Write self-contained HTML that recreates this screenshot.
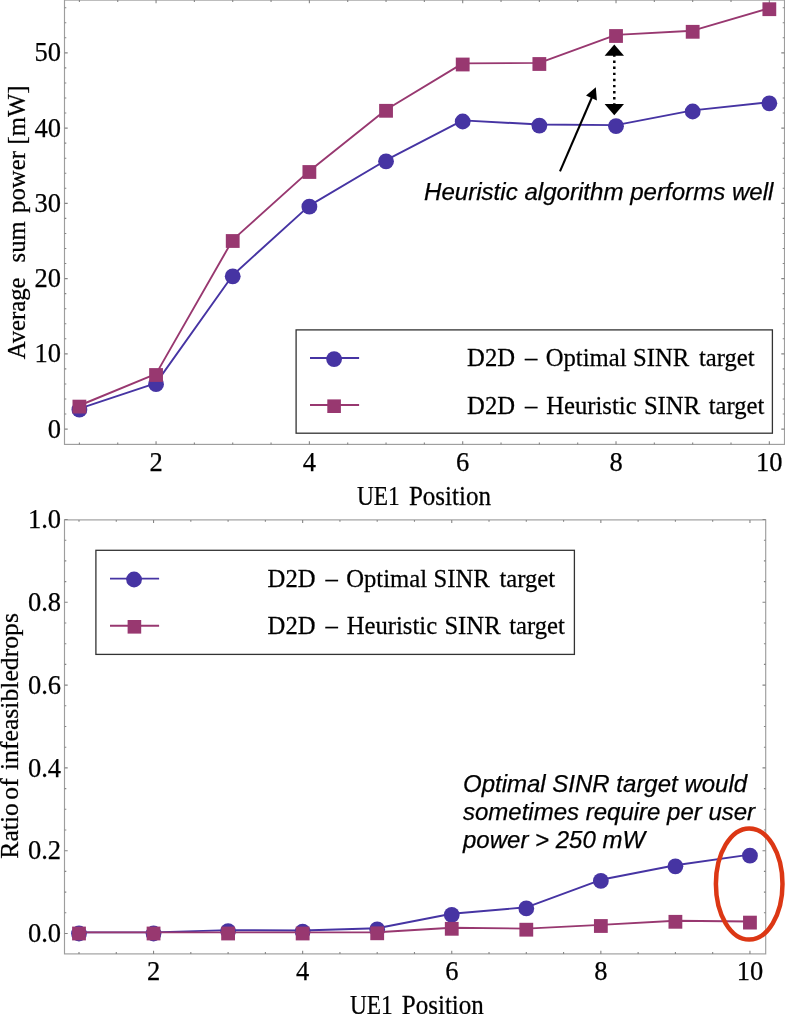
<!DOCTYPE html>
<html><head><meta charset="utf-8"><title>Average sum power and ratio of infeasible drops vs UE1 position</title>
<style>html,body{margin:0;padding:0;background:#fff;width:785px;height:1014px;overflow:hidden}svg{display:block}.s{font-family:'Liberation Serif', 'Times New Roman', serif;fill:#000;stroke:#000;stroke-width:0.25px} .i{font-family:'Liberation Sans', Arial, sans-serif;font-style:italic;fill:#000;stroke:#000;stroke-width:0.25px}</style></head><body>
<svg width="785" height="1014" viewBox="0 0 785 1014">
<rect width="785" height="1014" fill="#fff"/>
<rect x="64.5" y="0.1" width="720.00" height="444.30" fill="none" stroke="#9d9d9d" stroke-width="1.15"/>
<path d="M156.06,444.4v-3.2M156.06,0.1v3.2M309.38,444.4v-3.2M309.38,0.1v3.2M462.70,444.4v-3.2M462.70,0.1v3.2M616.02,444.4v-3.2M616.02,0.1v3.2M769.34,444.4v-3.2M769.34,0.1v3.2M79.40,444.4v-1.8M79.40,0.1v1.8M117.73,444.4v-1.8M117.73,0.1v1.8M194.39,444.4v-1.8M194.39,0.1v1.8M232.72,444.4v-1.8M232.72,0.1v1.8M271.05,444.4v-1.8M271.05,0.1v1.8M347.71,444.4v-1.8M347.71,0.1v1.8M386.04,444.4v-1.8M386.04,0.1v1.8M424.37,444.4v-1.8M424.37,0.1v1.8M501.03,444.4v-1.8M501.03,0.1v1.8M539.36,444.4v-1.8M539.36,0.1v1.8M577.69,444.4v-1.8M577.69,0.1v1.8M654.35,444.4v-1.8M654.35,0.1v1.8M692.68,444.4v-1.8M692.68,0.1v1.8M731.01,444.4v-1.8M731.01,0.1v1.8M64.5,429.10h3.2M784.5,429.10h-3.2M64.5,353.85h3.2M784.5,353.85h-3.2M64.5,278.60h3.2M784.5,278.60h-3.2M64.5,203.35h3.2M784.5,203.35h-3.2M64.5,128.10h3.2M784.5,128.10h-3.2M64.5,52.85h3.2M784.5,52.85h-3.2M64.5,414.05h1.8M784.5,414.05h-1.8M64.5,399.00h1.8M784.5,399.00h-1.8M64.5,383.95h1.8M784.5,383.95h-1.8M64.5,368.90h1.8M784.5,368.90h-1.8M64.5,338.80h1.8M784.5,338.80h-1.8M64.5,323.75h1.8M784.5,323.75h-1.8M64.5,308.70h1.8M784.5,308.70h-1.8M64.5,293.65h1.8M784.5,293.65h-1.8M64.5,263.55h1.8M784.5,263.55h-1.8M64.5,248.50h1.8M784.5,248.50h-1.8M64.5,233.45h1.8M784.5,233.45h-1.8M64.5,218.40h1.8M784.5,218.40h-1.8M64.5,188.30h1.8M784.5,188.30h-1.8M64.5,173.25h1.8M784.5,173.25h-1.8M64.5,158.20h1.8M784.5,158.20h-1.8M64.5,143.15h1.8M784.5,143.15h-1.8M64.5,113.05h1.8M784.5,113.05h-1.8M64.5,98.00h1.8M784.5,98.00h-1.8M64.5,82.95h1.8M784.5,82.95h-1.8M64.5,67.90h1.8M784.5,67.90h-1.8M64.5,37.80h1.8M784.5,37.80h-1.8M64.5,22.75h1.8M784.5,22.75h-1.8M64.5,7.70h1.8M784.5,7.70h-1.8" stroke="#858585" stroke-width="1.1" fill="none"/>
<text class="s" x="61" y="437.70" font-size="26.5" text-anchor="end">0</text>
<text class="s" x="61" y="362.45" font-size="26.5" text-anchor="end">10</text>
<text class="s" x="61" y="287.20" font-size="26.5" text-anchor="end">20</text>
<text class="s" x="61" y="211.95" font-size="26.5" text-anchor="end">30</text>
<text class="s" x="61" y="136.70" font-size="26.5" text-anchor="end">40</text>
<text class="s" x="61" y="61.45" font-size="26.5" text-anchor="end">50</text>
<text class="s" x="156.06" y="470.5" font-size="26.5" text-anchor="middle">2</text>
<text class="s" x="309.38" y="470.5" font-size="26.5" text-anchor="middle">4</text>
<text class="s" x="462.70" y="470.5" font-size="26.5" text-anchor="middle">6</text>
<text class="s" x="616.02" y="470.5" font-size="26.5" text-anchor="middle">8</text>
<text class="s" x="769.34" y="470.5" font-size="26.5" text-anchor="middle">10</text>
<text class="s" transform="translate(357.00,504.5) scale(0.885,1)" font-size="26.4">UE1</text><text class="s" transform="translate(408.90,504.5) scale(0.948,1)" font-size="26.4">Position</text>
<text class="s" transform="translate(24.6,359.3) rotate(-90) scale(0.955,1)" y="0" font-size="25.9"><tspan x="0.0">Average</tspan><tspan x="101.47">sum</tspan><tspan x="153.3">power</tspan><tspan x="224.92">[mW]</tspan></text>
<polyline points="79.40,408.60 156.06,383.10 232.72,275.20 309.38,205.60 386.04,160.20 462.70,120.40 539.36,124.50 616.02,125.10 692.68,110.40 769.34,102.20" fill="none" stroke="#4634a3" stroke-width="1.9" stroke-linejoin="round"/>
<circle cx="79.40" cy="409.70" r="7.9" fill="#4634a3"/>
<circle cx="156.06" cy="384.20" r="7.9" fill="#4634a3"/>
<circle cx="232.72" cy="276.30" r="7.9" fill="#4634a3"/>
<circle cx="309.38" cy="206.70" r="7.9" fill="#4634a3"/>
<circle cx="386.04" cy="161.30" r="7.9" fill="#4634a3"/>
<circle cx="462.70" cy="121.50" r="7.9" fill="#4634a3"/>
<circle cx="539.36" cy="125.60" r="7.9" fill="#4634a3"/>
<circle cx="616.02" cy="126.20" r="7.9" fill="#4634a3"/>
<circle cx="692.68" cy="111.50" r="7.9" fill="#4634a3"/>
<circle cx="769.34" cy="103.30" r="7.9" fill="#4634a3"/>
<polyline points="79.40,405.50 156.06,373.90 232.72,239.90 309.38,170.90 386.04,109.70 462.70,63.40 539.36,62.90 616.02,34.90 692.68,30.70 769.34,8.10" fill="none" stroke="#983870" stroke-width="1.9" stroke-linejoin="round"/>
<rect x="72.50" y="399.70" width="13.8" height="13.8" fill="#983870"/>
<rect x="149.16" y="368.10" width="13.8" height="13.8" fill="#983870"/>
<rect x="225.82" y="234.10" width="13.8" height="13.8" fill="#983870"/>
<rect x="302.48" y="165.10" width="13.8" height="13.8" fill="#983870"/>
<rect x="379.14" y="103.90" width="13.8" height="13.8" fill="#983870"/>
<rect x="455.80" y="57.60" width="13.8" height="13.8" fill="#983870"/>
<rect x="532.46" y="57.10" width="13.8" height="13.8" fill="#983870"/>
<rect x="609.12" y="29.10" width="13.8" height="13.8" fill="#983870"/>
<rect x="685.78" y="24.90" width="13.8" height="13.8" fill="#983870"/>
<rect x="762.44" y="2.30" width="13.8" height="13.8" fill="#983870"/>
<rect x="296.1" y="329.9" width="476.3" height="103.3" fill="#fff" stroke="#333" stroke-width="1.3"/>
<line x1="310" y1="358.0" x2="359.1" y2="358.0" stroke="#4634a3" stroke-width="1.9"/><circle cx="334.1" cy="359.1" r="7.9" fill="#4634a3"/>
<line x1="310" y1="405.0" x2="359.1" y2="405.0" stroke="#983870" stroke-width="1.9"/><rect x="327.3" y="399.4" width="13.6" height="13.6" fill="#983870"/>
<text class="s" transform="translate(467.10,366.2) scale(0.96,1)" font-size="25.7"><tspan x="0.00">D2D</tspan><tspan x="60.42">–</tspan><tspan x="81.88">Optimal</tspan><tspan x="172.92">SINR</tspan><tspan x="241.46">target</tspan></text>
<text class="s" transform="translate(467.10,413.8) scale(0.96,1)" font-size="25.7"><tspan x="0.00">D2D</tspan><tspan x="60.42">–</tspan><tspan x="82.40">Heuristic</tspan><tspan x="184.17">SINR</tspan><tspan x="251.67">target</tspan></text>
<line x1="560" y1="171.3" x2="592.3" y2="96.5" stroke="#000" stroke-width="2.1"/>
<polygon points="595.8,87.2 586.0,95.5 596.9,100.4" fill="#000"/>
<line x1="614.3" y1="50" x2="614.3" y2="108" stroke="#000" stroke-width="2.5" stroke-dasharray="2.4,3.7" stroke-dashoffset="1.7"/>
<polygon points="614.3,44.6 604.6,55.8 624,55.8" fill="#000"/>
<polygon points="614.3,115.3 604.6,103.9 624,103.9" fill="#000"/>
<text class="i" x="424" y="199.9" font-size="24.1">Heuristic algorithm performs well</text>
<rect x="64.5" y="519.9" width="701.20" height="434.00" fill="none" stroke="#9d9d9d" stroke-width="1.15"/>
<path d="M153.55,953.9v-3.2M153.55,519.9v3.2M302.65,953.9v-3.2M302.65,519.9v3.2M451.75,953.9v-3.2M451.75,519.9v3.2M600.85,953.9v-3.2M600.85,519.9v3.2M749.95,953.9v-3.2M749.95,519.9v3.2M79.00,953.9v-1.8M79.00,519.9v1.8M116.28,953.9v-1.8M116.28,519.9v1.8M190.82,953.9v-1.8M190.82,519.9v1.8M228.10,953.9v-1.8M228.10,519.9v1.8M265.38,953.9v-1.8M265.38,519.9v1.8M339.93,953.9v-1.8M339.93,519.9v1.8M377.20,953.9v-1.8M377.20,519.9v1.8M414.47,953.9v-1.8M414.47,519.9v1.8M489.02,953.9v-1.8M489.02,519.9v1.8M526.30,953.9v-1.8M526.30,519.9v1.8M563.58,953.9v-1.8M563.58,519.9v1.8M638.12,953.9v-1.8M638.12,519.9v1.8M675.40,953.9v-1.8M675.40,519.9v1.8M712.67,953.9v-1.8M712.67,519.9v1.8M64.5,933.50h3.2M765.7,933.50h-3.2M64.5,850.70h3.2M765.7,850.70h-3.2M64.5,767.90h3.2M765.7,767.90h-3.2M64.5,685.10h3.2M765.7,685.10h-3.2M64.5,602.30h3.2M765.7,602.30h-3.2M64.5,519.50h3.2M765.7,519.50h-3.2M64.5,912.80h1.8M765.7,912.80h-1.8M64.5,892.10h1.8M765.7,892.10h-1.8M64.5,871.40h1.8M765.7,871.40h-1.8M64.5,830.00h1.8M765.7,830.00h-1.8M64.5,809.30h1.8M765.7,809.30h-1.8M64.5,788.60h1.8M765.7,788.60h-1.8M64.5,747.20h1.8M765.7,747.20h-1.8M64.5,726.50h1.8M765.7,726.50h-1.8M64.5,705.80h1.8M765.7,705.80h-1.8M64.5,664.40h1.8M765.7,664.40h-1.8M64.5,643.70h1.8M765.7,643.70h-1.8M64.5,623.00h1.8M765.7,623.00h-1.8M64.5,581.60h1.8M765.7,581.60h-1.8M64.5,560.90h1.8M765.7,560.90h-1.8M64.5,540.20h1.8M765.7,540.20h-1.8" stroke="#858585" stroke-width="1.1" fill="none"/>
<text class="s" x="61" y="942.10" font-size="26.5" text-anchor="end">0.0</text>
<text class="s" x="61" y="859.30" font-size="26.5" text-anchor="end">0.2</text>
<text class="s" x="61" y="776.50" font-size="26.5" text-anchor="end">0.4</text>
<text class="s" x="61" y="693.70" font-size="26.5" text-anchor="end">0.6</text>
<text class="s" x="61" y="610.90" font-size="26.5" text-anchor="end">0.8</text>
<text class="s" x="61" y="528.10" font-size="26.5" text-anchor="end">1.0</text>
<text class="s" x="153.55" y="980.4" font-size="26.5" text-anchor="middle">2</text>
<text class="s" x="302.65" y="980.4" font-size="26.5" text-anchor="middle">4</text>
<text class="s" x="451.75" y="980.4" font-size="26.5" text-anchor="middle">6</text>
<text class="s" x="600.85" y="980.4" font-size="26.5" text-anchor="middle">8</text>
<text class="s" x="749.95" y="980.4" font-size="26.5" text-anchor="middle">10</text>
<text class="s" transform="translate(349.90,1014.4) scale(0.885,1)" font-size="26.4">UE1</text><text class="s" transform="translate(401.80,1014.4) scale(0.948,1)" font-size="26.4">Position</text>
<text class="s" transform="translate(18.1,858.7) rotate(-90)" y="0" font-size="25.7"><tspan x="0.0">Ratio</tspan><tspan x="59.0">of</tspan><tspan x="88.69999999999999">infeasibledrops</tspan></text>
<polyline points="79.00,932.40 153.55,932.40 228.10,930.10 302.65,930.50 377.20,928.30 451.75,913.70 526.30,907.30 600.85,879.80 675.40,865.20 749.95,854.60" fill="none" stroke="#4634a3" stroke-width="1.9" stroke-linejoin="round"/>
<circle cx="79.00" cy="933.50" r="7.9" fill="#4634a3"/>
<circle cx="153.55" cy="933.50" r="7.9" fill="#4634a3"/>
<circle cx="228.10" cy="931.20" r="7.9" fill="#4634a3"/>
<circle cx="302.65" cy="931.60" r="7.9" fill="#4634a3"/>
<circle cx="377.20" cy="929.40" r="7.9" fill="#4634a3"/>
<circle cx="451.75" cy="914.80" r="7.9" fill="#4634a3"/>
<circle cx="526.30" cy="908.40" r="7.9" fill="#4634a3"/>
<circle cx="600.85" cy="880.90" r="7.9" fill="#4634a3"/>
<circle cx="675.40" cy="866.30" r="7.9" fill="#4634a3"/>
<circle cx="749.95" cy="855.70" r="7.9" fill="#4634a3"/>
<polyline points="79.00,932.40 153.55,932.40 228.10,932.40 302.65,932.40 377.20,932.20 451.75,927.70 526.30,928.60 600.85,924.90 675.40,920.70 749.95,921.50" fill="none" stroke="#983870" stroke-width="1.9" stroke-linejoin="round"/>
<rect x="72.10" y="926.60" width="13.8" height="13.8" fill="#983870"/>
<rect x="146.65" y="926.60" width="13.8" height="13.8" fill="#983870"/>
<rect x="221.20" y="926.60" width="13.8" height="13.8" fill="#983870"/>
<rect x="295.75" y="926.60" width="13.8" height="13.8" fill="#983870"/>
<rect x="370.30" y="926.40" width="13.8" height="13.8" fill="#983870"/>
<rect x="444.85" y="921.90" width="13.8" height="13.8" fill="#983870"/>
<rect x="519.40" y="922.80" width="13.8" height="13.8" fill="#983870"/>
<rect x="593.95" y="919.10" width="13.8" height="13.8" fill="#983870"/>
<rect x="668.50" y="914.90" width="13.8" height="13.8" fill="#983870"/>
<rect x="743.05" y="915.70" width="13.8" height="13.8" fill="#983870"/>
<rect x="95.9" y="550.3" width="478.5" height="104.1" fill="#fff" stroke="#333" stroke-width="1.3"/>
<line x1="110" y1="578.6" x2="159.1" y2="578.6" stroke="#4634a3" stroke-width="1.9"/><circle cx="134.05" cy="579.5" r="7.9" fill="#4634a3"/>
<line x1="110" y1="625.8" x2="159.1" y2="625.8" stroke="#983870" stroke-width="1.9"/><rect x="127.6" y="620" width="13.6" height="13.6" fill="#983870"/>
<text class="s" transform="translate(267.60,587.0) scale(0.96,1)" font-size="25.7"><tspan x="0.00">D2D</tspan><tspan x="60.42">–</tspan><tspan x="81.88">Optimal</tspan><tspan x="172.92">SINR</tspan><tspan x="241.46">target</tspan></text>
<text class="s" transform="translate(267.60,633.9) scale(0.96,1)" font-size="25.7"><tspan x="0.00">D2D</tspan><tspan x="60.42">–</tspan><tspan x="82.40">Heuristic</tspan><tspan x="184.17">SINR</tspan><tspan x="251.67">target</tspan></text>
<text class="i" font-size="24"><tspan x="463" y="791.5">Optimal SINR target would</tspan><tspan x="463" y="819.6">sometimes require per user</tspan><tspan x="463" y="848.2">power &gt; 250 mW</tspan></text>
<ellipse cx="749.2" cy="884" rx="33.3" ry="55.6" fill="none" stroke="#dc3714" stroke-width="4.5"/>
</svg></body></html>
